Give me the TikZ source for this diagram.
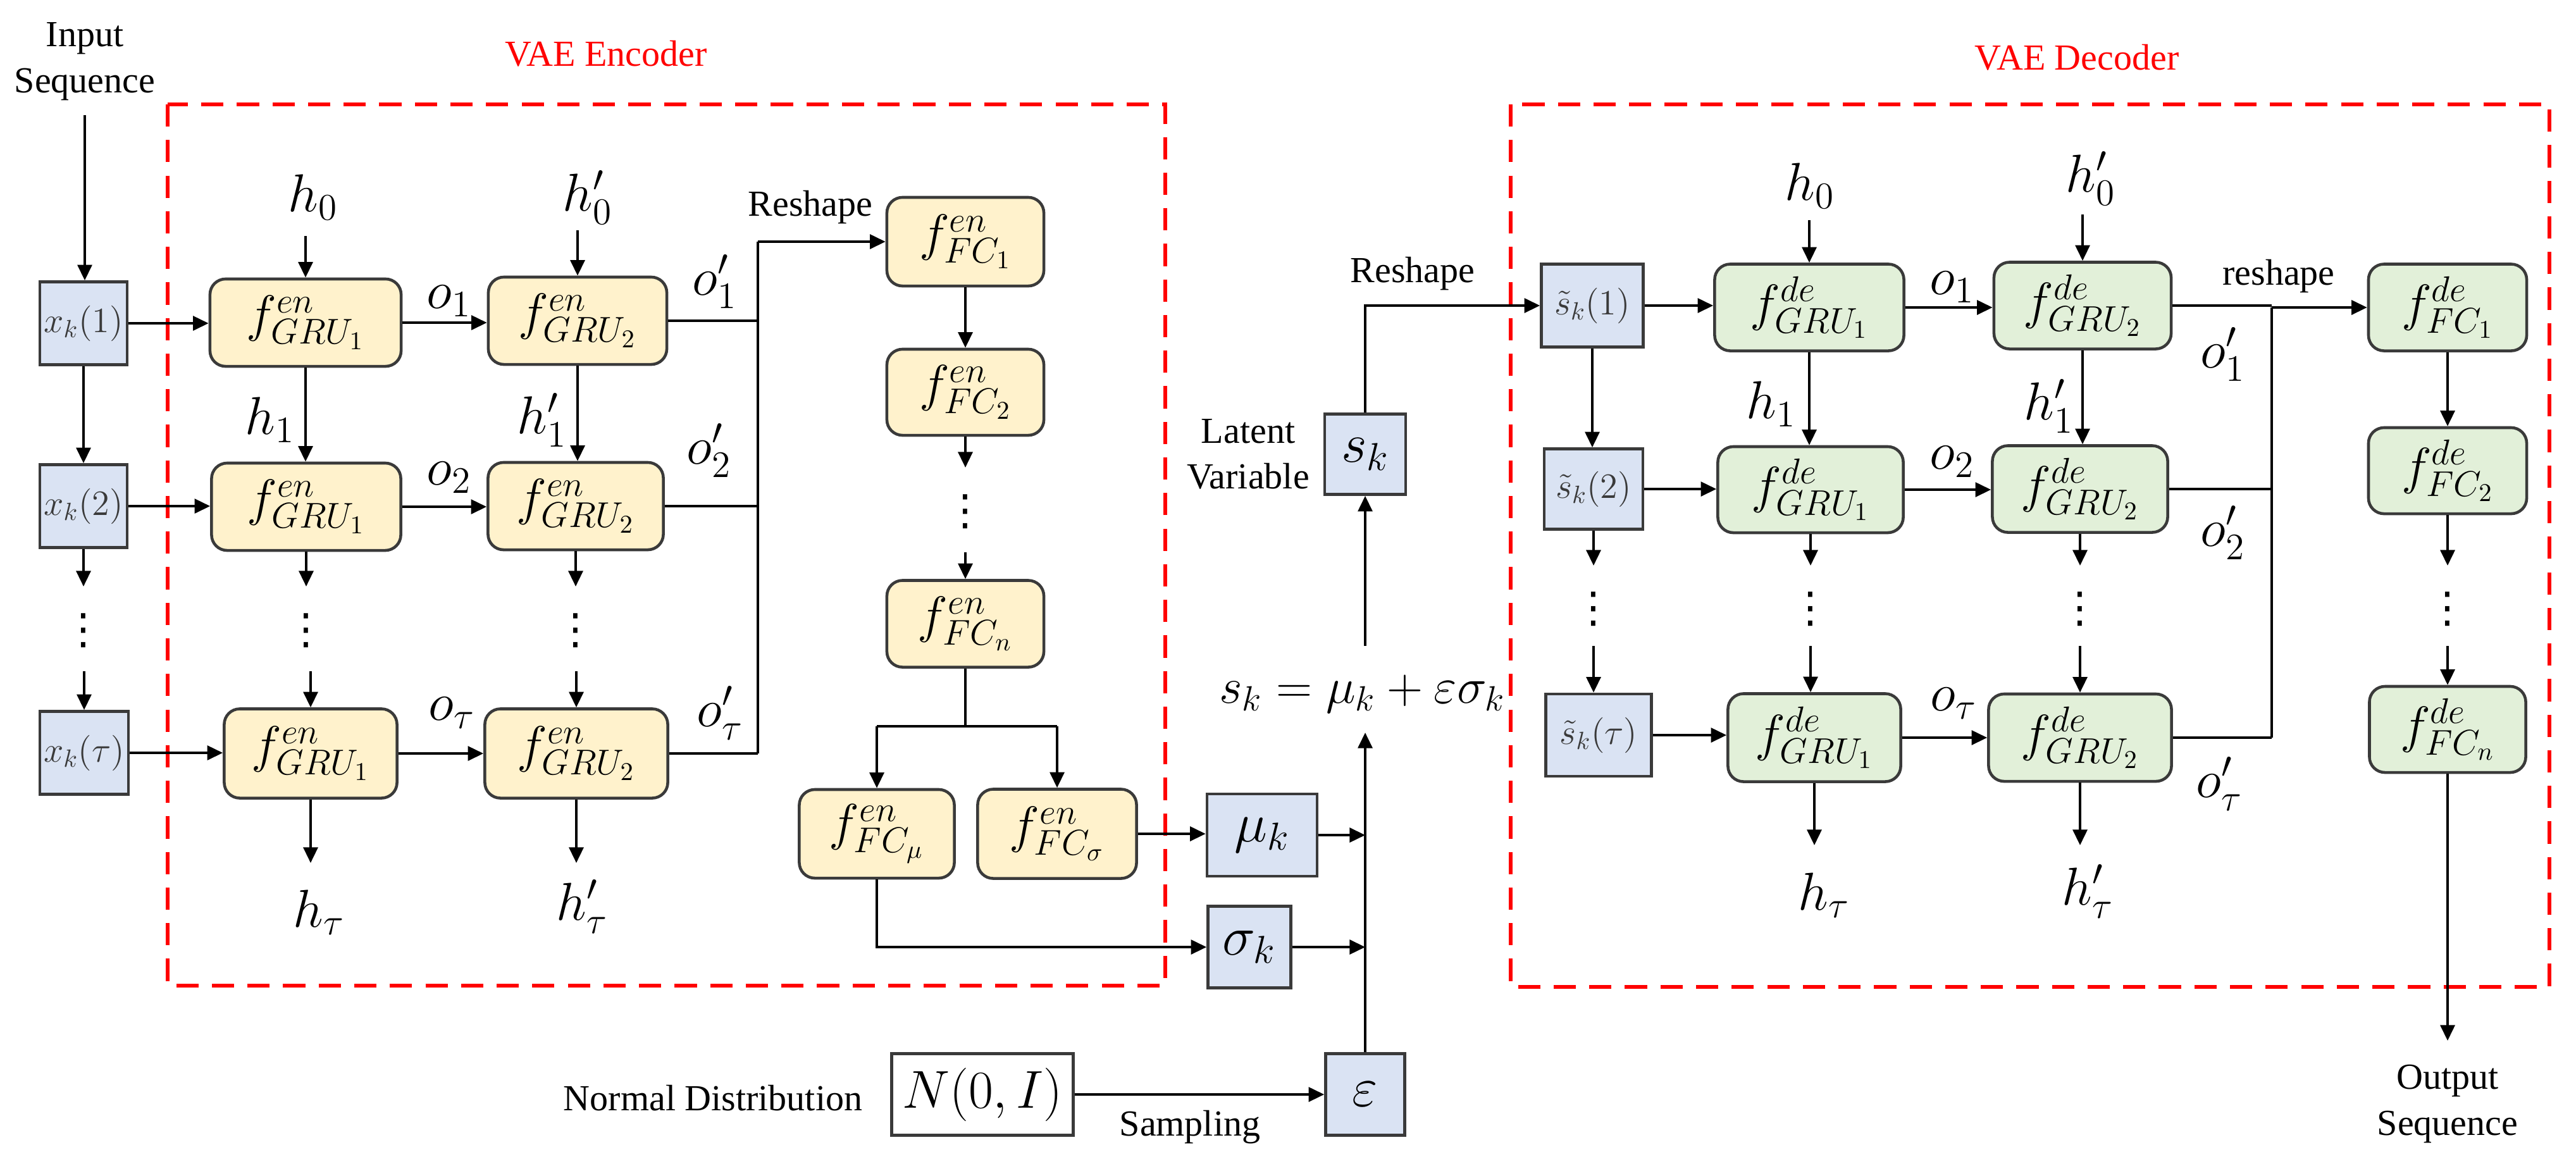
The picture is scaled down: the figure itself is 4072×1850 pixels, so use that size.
\RequirePackage{fix-cm}
\documentclass[tikz,border=0pt]{standalone}
\usepackage{fontspec}
\setmainfont{Liberation Serif}
\newfontfamily\dejavu{DejaVu Sans}
\usetikzlibrary{arrows.meta}
\definecolor{bluefill}{HTML}{DAE3F3}
\definecolor{yellowfill}{HTML}{FFF2CC}
\definecolor{greenfill}{HTML}{E2F0D9}
\definecolor{boxborder}{HTML}{3A3A3A}
\definecolor{vaered}{HTML}{FF0000}
\newcommand\txtsz{\fontsize{16.5}{20.7}\selectfont}
\newcommand\lblsz{\fontsize{24}{28}\selectfont}
\newcommand\fmlsz{\fontsize{22.5}{26}\selectfont}
\newcommand\bigsz{\fontsize{25}{29}\selectfont}
\newcommand\boxsz{\fontsize{23}{27}\selectfont}
\newcommand\smsz{\fontsize{16}{19}\selectfont}
\newcommand\dotsz{\dejavu\fontsize{19}{20}\selectfont}
\begin{document}
\begin{tikzpicture}[x=0.01cm,y=-0.01cm,
  conn/.style={line width=1.05pt, draw=black},
  arr/.style={conn, -{Triangle[length=7pt,width=6.5pt]}},
  bluebox/.style={draw=boxborder, line width=1.3pt, fill=bluefill, inner sep=0pt, font=\smsz, text=boxborder},
  bigblue/.style={draw=boxborder, line width=1.3pt, fill=bluefill, inner sep=0pt, font=\bigsz},
  ybox/.style={draw=boxborder, line width=1.3pt, fill=yellowfill, rounded corners=7pt, inner sep=0pt, minimum height=1.38cm, font=\boxsz},
  gbox/.style={draw=boxborder, line width=1.3pt, fill=greenfill, rounded corners=7pt, inner sep=0pt, minimum height=1.37cm, font=\boxsz},
  lbl/.style={font=\lblsz, inner sep=0pt},
  txt/.style={font=\txtsz, inner sep=0pt, align=center},
  redtxt/.style={font=\txtsz, inner sep=0pt, text=vaered},
  dotsn/.style={font=\dotsz, inner sep=0pt},
  redbox/.style={draw=vaered, line width=1.7pt, dash pattern=on 10pt off 6pt}
]
\useasboundingbox (0,0) rectangle (4072,1850);

% frames
\draw[redbox] (265,165) rectangle (1842,1558);
\draw[redbox] (2388,165) rectangle (4030,1560);
\node[redtxt] (encl) at (958,85) {VAE Encoder};
\node[redtxt] (decl) at (3283,91) {VAE Decoder};

% ---------------- Encoder ----------------
\node[txt] (inseq) at (134,97) {Input\\Sequence};
\node[bluebox, minimum width=1.38cm, minimum height=1.31cm] (xk1) at (132,511) {$x_k(1)$};
\node[bluebox, minimum width=1.38cm, minimum height=1.31cm] (xk2) at (132,800) {$x_k(2)$};
\node[bluebox, minimum width=1.40cm, minimum height=1.31cm] (xkt) at (133,1190) {$x_k(\tau)$};

\node[ybox, minimum width=3.02cm] (e11) at (483,510) {$f^{en}_{GRU_1}$};
\node[ybox, minimum width=2.82cm] (e12) at (913,507) {$f^{en}_{GRU_2}$};
\node[ybox, minimum width=2.99cm] (e21) at (484,801) {$f^{en}_{GRU_1}$};
\node[ybox, minimum width=2.77cm] (e22) at (910,800) {$f^{en}_{GRU_2}$};
\node[ybox, minimum width=2.73cm, minimum height=1.41cm] (e31) at (491,1191) {$f^{en}_{GRU_1}$};
\node[ybox, minimum width=2.89cm, minimum height=1.41cm] (e32) at (911,1191) {$f^{en}_{GRU_2}$};

\coordinate (insrc) at (134,182);
\draw[arr] (insrc) -- (insrc |- xk1.north);
\draw[arr] (xk1.south) -- (xk1.south |- xk2.north);

\node[lbl] (eh0) at (495,312) {$h_0$};
\node[lbl] (eh0p) at (929,312) {$h'_0$};
\coordinate (eh0a) at (483,373);
\coordinate (eh0pa) at (913,364);
\draw[arr] (eh0a) -- (e11.north);
\draw[arr] (eh0pa) -- (e12.north);

\draw[arr] (xk1.east) -- (xk1.east -| e11.west);
\draw[arr] (xk2.east) -- (xk2.east -| e21.west);
\draw[arr] (xkt.east) -- (xkt.east -| e31.west);
\draw[arr] (e11.east) -- (e11.east -| e12.west);
\draw[arr] (e21.east) -- (e21.east -| e22.west);
\draw[arr] (e31.east) -- (e31.east -| e32.west);

\node[lbl] (eo1) at (710,476) {$o_1$};
\node[lbl] (eo2) at (710,755) {$o_2$};
\node[lbl] (eot) at (714,1127) {$o_\tau$};

\draw[arr] (e11.south) -- (e11.south |- e21.north);
\draw[arr] (e12.south) -- (e12.south |- e22.north);
\node[lbl] (eh1) at (427,664) {$h_1$};
\node[lbl] (eh1p) at (857,664) {$h'_1$};

% ellipsis between row 2 and row tau
\coordinate (ea) at (0,927);
\coordinate (ed) at (0,997);
\coordinate (eb) at (0,1061);
\draw[arr] (xk2.south) -- (xk2.south |- ea);
\draw[arr] (e21.south) -- (e21.south |- ea);
\draw[arr] (e22.south) -- (e22.south |- ea);
\node[dotsn] (edx) at (xk2.south |- ed) {⋮};
\node[dotsn] (ed1) at (e21.south |- ed) {⋮};
\node[dotsn] (ed2) at (e22.south |- ed) {⋮};
\draw[arr] (xkt.north |- eb) -- (xkt.north);
\draw[arr] (e31.north |- eb) -- (e31.north);
\draw[arr] (e32.north |- eb) -- (e32.north);

\coordinate (eend) at (0,1364);
\draw[arr] (e31.south) -- (e31.south |- eend);
\draw[arr] (e32.south) -- (e32.south |- eend);
\node[lbl] (eht) at (504,1442) {$h_\tau$};
\node[lbl] (ehtp) at (920,1433) {$h'_\tau$};

% bus to FC
\coordinate (ebus) at (1198,382);
\draw[conn] (e12.east) -- (e12.east -| ebus);
\draw[conn] (e22.east) -- (e22.east -| ebus);
\draw[conn] (e32.east) -- (e32.east -| ebus);
\draw[conn] (ebus) -- (ebus |- e32.east);
\node[lbl] (eo1p) at (1130,445) {$o'_1$};
\node[lbl] (eo2p) at (1121,712) {$o'_2$};
\node[lbl] (eotp) at (1138,1127) {$o'_\tau$};
\node[txt] (ersh) at (1281,328) {Reshape};

\node[ybox, minimum width=2.48cm, minimum height=1.40cm] (fc1) at (1526,382) {$f^{en}_{FC_1}$};
\node[ybox, minimum width=2.48cm, minimum height=1.36cm] (fc2) at (1526,620) {$f^{en}_{FC_2}$};
\node[ybox, minimum width=2.48cm, minimum height=1.37cm] (fcn) at (1526,986) {$f^{en}_{FC_n}$};
\draw[arr] (ebus) -- (ebus -| fc1.west);
\draw[arr] (fc1.south) -- (fc2.north);
\coordinate (fa) at (0,739);
\coordinate (fd) at (0,809);
\coordinate (fb) at (0,873);
\draw[arr] (fc2.south) -- (fc2.south |- fa);
\node[dotsn] (fdots) at (fc2.south |- fd) {⋮};
\draw[arr] (fcn.north |- fb) -- (fcn.north);

\node[ybox, minimum width=2.45cm, minimum height=1.40cm] (fcmu) at (1386,1318) {$f^{en}_{FC_\mu}$};
\node[ybox, minimum width=2.51cm, minimum height=1.41cm] (fcsig) at (1671,1318) {$f^{en}_{FC_\sigma}$};
\coordinate (br) at (1526,1148);
\draw[conn] (fcn.south) -- (br);
\draw[conn] (fcmu.north |- br) -- (fcsig.north |- br);
\draw[arr] (fcmu.north |- br) -- (fcmu.north);
\draw[arr] (fcsig.north |- br) -- (fcsig.north);

% ---------------- sampling ----------------
\node[bigblue, minimum width=1.74cm, minimum height=1.30cm] (muk) at (1995,1320) {$\mu_k$};
\node[bigblue, minimum width=1.31cm, minimum height=1.29cm] (sigk) at (1975,1497) {$\sigma_k$};
\node[bigblue, minimum width=1.25cm, minimum height=1.29cm] (eps) at (2158,1730) {$\varepsilon$};
\node[draw=boxborder, line width=1.3pt, fill=white, inner sep=0pt, font=\lblsz, minimum width=2.87cm, minimum height=1.29cm] (nbox) at (1553,1730) {$N(0,I)$};
\node[bigblue, minimum width=1.28cm, minimum height=1.27cm] (sk) at (2158,718) {$s_k$};

\draw[arr] (fcsig.east) -- (fcsig.east -| muk.west);
\draw[arr] (fcmu.south) -- (fcmu.south |- sigk.west) -- (sigk.west);
\draw[arr] (muk.east) -- (muk.east -| eps.north);
\draw[arr] (sigk.east) -- (sigk.east -| eps.north);
\draw[arr] (nbox.east) -- (eps.west);
\coordinate (fbot) at (2158,1158);
\coordinate (ftop) at (2158,1021);
\draw[arr] (eps.north) -- (fbot);
\node[font=\fmlsz, inner sep=0pt] (formula) at (2153,1097) {$s_k=\mu_k+\varepsilon\sigma_k$};
\draw[arr] (ftop) -- (sk.south);

\node[txt] (ndist) at (1127,1736) {Normal Distribution};
\node[txt] (samp) at (1881,1782) {Sampling};
\node[txt] (latent) at (1973,718) {Latent\\Variable};
\node[txt] (drsh1) at (2233,433) {Reshape};

% ---------------- Decoder ----------------
\node[bluebox, minimum width=1.61cm, minimum height=1.31cm] (st1) at (2517,483) {$\tilde{s}_k(1)$};
\node[bluebox, minimum width=1.56cm, minimum height=1.27cm] (st2) at (2519,773) {$\tilde{s}_k(2)$};
\node[bluebox, minimum width=1.67cm, minimum height=1.30cm] (stt) at (2527,1162) {$\tilde{s}_k(\tau)$};
\draw[arr] (sk.north) -- (sk.north |- st1.west) -- (st1.west);

\node[gbox, minimum width=2.99cm] (d11) at (2860,486) {$f^{de}_{GRU_1}$};
\node[gbox, minimum width=2.80cm] (d12) at (3292,483) {$f^{de}_{GRU_2}$};
\node[gbox, minimum width=2.93cm, minimum height=1.36cm] (d21) at (2862,774) {$f^{de}_{GRU_1}$};
\node[gbox, minimum width=2.77cm] (d22) at (3288,773) {$f^{de}_{GRU_2}$};
\node[gbox, minimum width=2.73cm, minimum height=1.39cm] (d31) at (2868,1166) {$f^{de}_{GRU_1}$};
\node[gbox, minimum width=2.89cm, minimum height=1.38cm] (d32) at (3288,1166) {$f^{de}_{GRU_2}$};

\node[lbl] (dh0) at (2861,294) {$h_0$};
\node[lbl] (dh0p) at (3305,282) {$h'_0$};
\coordinate (dh0a) at (2860,348);
\coordinate (dh0pa) at (3292,339);
\draw[arr] (dh0a) -- (d11.north);
\draw[arr] (dh0pa) -- (d12.north);

\draw[arr] (st1.east) -- (st1.east -| d11.west);
\draw[arr] (st2.east) -- (st2.east -| d21.west);
\draw[arr] (stt.east) -- (stt.east -| d31.west);
\draw[arr] (d11.east) -- (d11.east -| d12.west);
\draw[arr] (d21.east) -- (d21.east -| d22.west);
\draw[arr] (d31.east) -- (d31.east -| d32.west);
\node[lbl] (do1) at (3086,454) {$o_1$};
\node[lbl] (do2) at (3086,730) {$o_2$};
\node[lbl] (dot) at (3088,1112) {$o_\tau$};

\draw[arr] (st1.south) -- (st1.south |- st2.north);
\draw[arr] (d11.south) -- (d11.south |- d21.north);
\draw[arr] (d12.south) -- (d12.south |- d22.north);
\node[lbl] (dh1) at (2800,639) {$h_1$};
\node[lbl] (dh1p) at (3239,642) {$h'_1$};

\coordinate (da) at (0,894);
\coordinate (dd) at (0,963);
\coordinate (db) at (0,1021);
\draw[arr] (st2.south) -- (st2.south |- da);
\draw[arr] (d21.south) -- (d21.south |- da);
\draw[arr] (d22.south) -- (d22.south |- da);
\node[dotsn] (ddx) at (st2.south |- dd) {⋮};
\node[dotsn] (dd1) at (d21.south |- dd) {⋮};
\node[dotsn] (dd2) at (d22.south |- dd) {⋮};
\draw[arr] (st2.south |- db) -- (st2.south |- stt.north);
\draw[arr] (d21.south |- db) -- (d21.south |- d31.north);
\draw[arr] (d22.south |- db) -- (d22.south |- d32.north);

\coordinate (dend) at (0,1336);
\draw[arr] (d31.south) -- (d31.south |- dend);
\draw[arr] (d32.south) -- (d32.south |- dend);
\node[lbl] (dht) at (2883,1415) {$h_\tau$};
\node[lbl] (dhtp) at (3300,1409) {$h'_\tau$};

\node[gbox, minimum width=2.50cm] (fd1) at (3869,486) {$f^{de}_{FC_1}$};
\node[gbox, minimum width=2.50cm, minimum height=1.36cm] (fd2) at (3869,744) {$f^{de}_{FC_2}$};
\node[gbox, minimum width=2.47cm, minimum height=1.36cm] (fdn) at (3869,1153) {$f^{de}_{FC_n}$};

\coordinate (dbus) at (3591,486);
\draw[conn] (d12.east) -- (d12.east -| dbus);
\draw[conn] (d22.east) -- (d22.east -| dbus);
\draw[conn] (d32.east) -- (d32.east -| dbus);
\draw[conn] (dbus) -- (dbus |- d32.east);
\draw[arr] (dbus) -- (dbus -| fd1.west);
\node[txt] (drsh2) at (3602,437) {reshape};
\node[lbl] (do1p) at (3514,560) {$o'_1$};
\node[lbl] (do2p) at (3514,842) {$o'_2$};
\node[lbl] (dotp) at (3508,1239) {$o'_\tau$};

\draw[arr] (fd1.south) -- (fd2.north);
\draw[arr] (fd2.south) -- (fd2.south |- da);
\node[dotsn] (fdd) at (fd2.south |- dd) {⋮};
\draw[arr] (fdn.north |- db) -- (fdn.north);
\coordinate (outend) at (3869,1645);
\draw[arr] (fdn.south) -- (outend);
\node[txt] (outseq) at (3869,1745) {Output\\Sequence};
\end{tikzpicture}
\end{document}
